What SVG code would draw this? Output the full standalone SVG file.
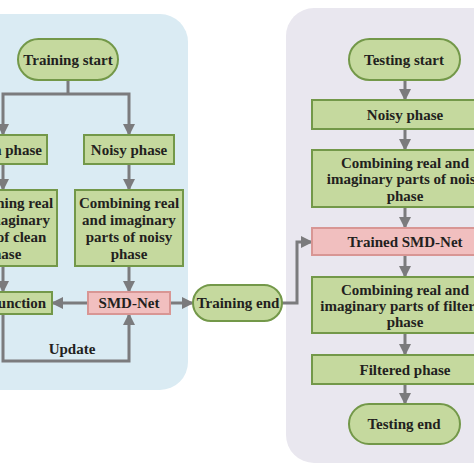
<svg xmlns="http://www.w3.org/2000/svg" width="474" height="474" viewBox="0 0 474 474">
<defs>
<marker id="ah" markerUnits="userSpaceOnUse" markerWidth="12" markerHeight="12" viewBox="0 0 12 12" refX="11" refY="6" orient="auto">
<path d="M0,0 L12,6 L0,12 z" fill="#7b7b7d"/>
</marker>
<style>
.g{fill:#c5d99e;stroke:#739849;stroke-width:2}
.p{fill:#f1bfbf;stroke:#d89694;stroke-width:2}
.t{font-family:"Liberation Serif","Times New Roman",serif;font-weight:bold;font-size:15px;fill:#231f20;text-anchor:middle;dominant-baseline:central}
.c{fill:none;stroke:#7b7b7d;stroke-width:3;marker-end:url(#ah)}
.l{fill:none;stroke:#7b7b7d;stroke-width:3}
</style>
</defs>
<rect width="474" height="474" fill="#ffffff"/>
<rect x="-40" y="14" width="228" height="376" rx="28" fill="#daebf3"/>
<rect x="286" y="8" width="230" height="455" rx="28" fill="#e9e7ef"/>

<g id="connectors">
<path class="l" d="M68,80 V94"/>
<path class="c" d="M68,94 H129 V135"/>
<path class="c" d="M68,94 H3 V135"/>
<path class="c" d="M3,164 V190"/>
<path class="c" d="M129,164 V190"/>
<path class="c" d="M3,266 V292"/>
<path class="c" d="M129,266 V292"/>
<path class="c" d="M88,303 H52"/>
<path class="c" d="M170,303 H193"/>
<path class="c" d="M3,314 V361 H129 V314"/>
<path class="c" d="M282,303 H297 V242 H312"/>
<path class="c" d="M405,80 V100"/>
<path class="c" d="M405,129 V150"/>
<path class="c" d="M405,207 V228"/>
<path class="c" d="M405,255 V277"/>
<path class="c" d="M405,333 V355"/>
<path class="c" d="M405,384 V404"/>
<text class="t" x="72" y="349">Update</text>
</g>

<g id="training-start"><rect class="g" x="18" y="39" width="100" height="41" rx="20.5"/><text class="t" x="68" y="60">Training start</text></g>
<g id="clean-phase"><rect class="g" x="-41" y="135" width="88" height="29"/><text class="t" x="3" y="150">Clean phase</text></g>
<g id="noisy-phase"><rect class="g" x="84" y="135" width="90" height="29"/><text class="t" x="129" y="150">Noisy phase</text></g>
<g id="combine-clean"><rect class="g" x="-51" y="190" width="108" height="76"/><text class="t" x="3" y="203">Combining real</text><text class="t" x="3" y="220">and imaginary</text><text class="t" x="3" y="237">parts of clean</text><text class="t" x="3" y="254">phase</text></g>
<g id="combine-noisy"><rect class="g" x="75" y="190" width="108" height="76"/><text class="t" x="129" y="203">Combining real</text><text class="t" x="129" y="220">and imaginary</text><text class="t" x="129" y="237">parts of noisy</text><text class="t" x="129" y="254">phase</text></g>
<g id="loss-function"><rect class="g" x="-46" y="292" width="98" height="22"/><text class="t" x="3" y="303">Loss function</text></g>
<g id="smd-net"><rect class="p" x="88" y="292" width="82" height="22"/><text class="t" x="129" y="303">SMD-Net</text></g>
<g id="training-end"><rect class="g" x="193" y="285" width="89" height="36" rx="18"/><text class="t" x="238" y="303">Training end</text></g>

<g id="testing-start"><rect class="g" x="349" y="39" width="111" height="41" rx="20.5"/><text class="t" x="404" y="60">Testing start</text></g>
<g id="noisy-phase-test"><rect class="g" x="312" y="100" width="186" height="29"/><text class="t" x="405" y="115">Noisy phase</text></g>
<g id="combine-noisy-test"><rect class="g" x="312" y="150" width="186" height="57"/><text class="t" x="405" y="163">Combining real and</text><text class="t" x="405" y="179">imaginary parts of noisy</text><text class="t" x="405" y="196">phase</text></g>
<g id="trained-smd-net"><rect class="p" x="312" y="228" width="186" height="27"/><text class="t" x="405" y="242">Trained SMD-Net</text></g>
<g id="combine-filtered"><rect class="g" x="312" y="277" width="186" height="56"/><text class="t" x="405" y="290">Combining real and</text><text class="t" x="405" y="306">imaginary parts of filtered</text><text class="t" x="405" y="322">phase</text></g>
<g id="filtered-phase"><rect class="g" x="312" y="355" width="186" height="29"/><text class="t" x="405" y="370">Filtered phase</text></g>
<g id="testing-end"><rect class="g" x="349" y="404" width="111" height="40" rx="20"/><text class="t" x="404" y="424">Testing end</text></g>
</svg>
